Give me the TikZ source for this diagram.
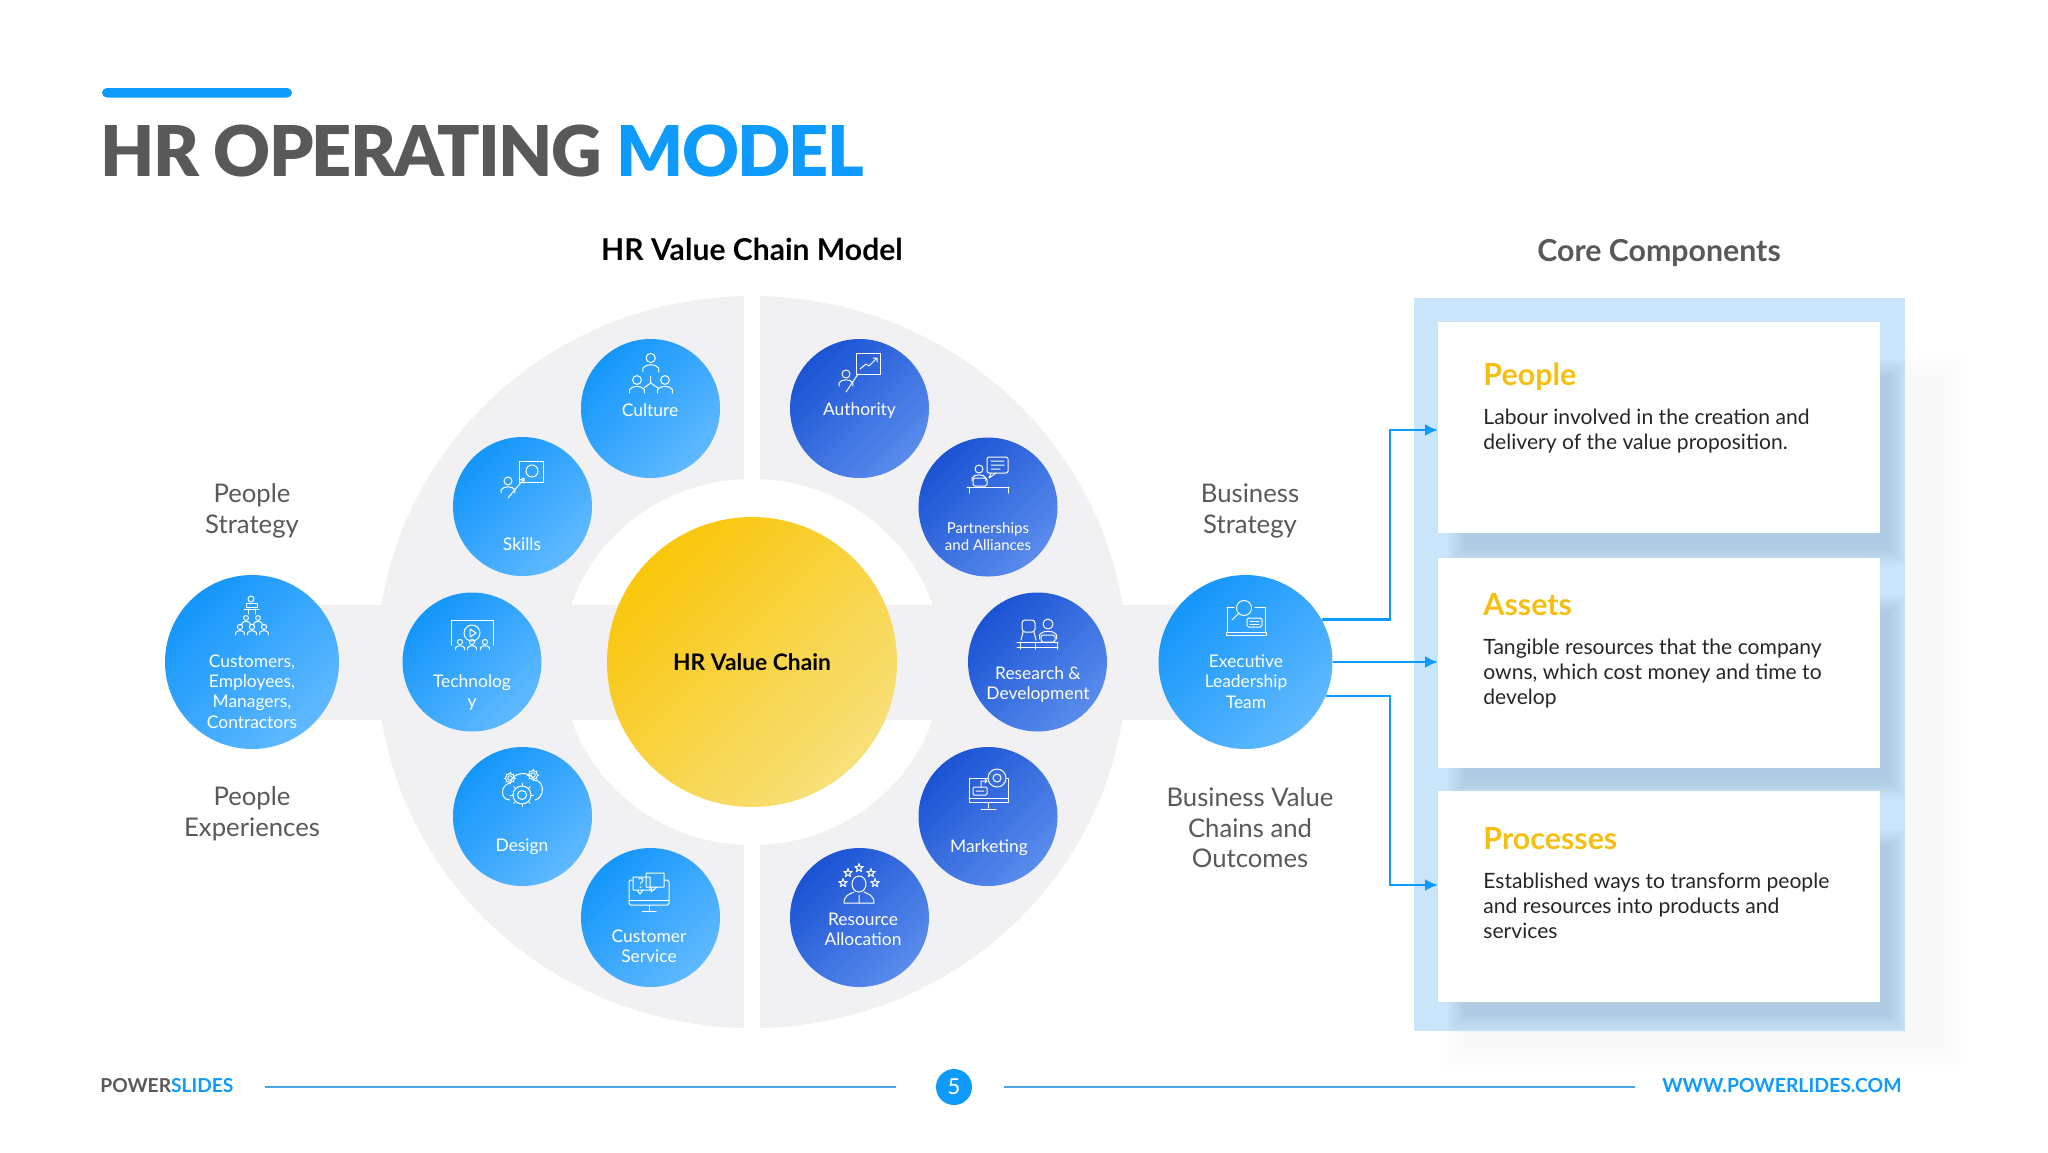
\documentclass[tikz,border=0pt]{standalone}
\usepackage{fontspec}
\setmainfont{Lato}
\newfontfamily\heavyfont[LetterSpace=-2.4]{Lato Black}
\usetikzlibrary{arrows.meta,calc}
\definecolor{dgrey}{HTML}{595959}
\definecolor{ring}{HTML}{F1F1F3}
\definecolor{skyA}{HTML}{1496FB}
\definecolor{skyB}{HTML}{60B9FF}
\definecolor{navyA}{HTML}{1A53D4}
\definecolor{navyB}{HTML}{5A8CEC}
\definecolor{sunA}{HTML}{F9C60A}
\definecolor{sunB}{HTML}{F8E07A}
\definecolor{accent}{HTML}{0E9BFB}
\definecolor{gold}{HTML}{F5BF12}
\definecolor{panelc}{HTML}{C8E5F9}
\definecolor{bodyc}{HTML}{262626}
\definecolor{rulec}{HTML}{4BA6E8}
\definecolor{shadowc}{HTML}{1F3A6E}
\newcommand\ipers[3]{%
  \draw[ico] (#1,#2) circle (#3);
  \draw[ico] ({#1-1.7*#3},{#2+3*#3}) -- ({#1-1.7*#3},{#2+2.2*#3}) .. controls ({#1-1.2*#3},{#2+1.2*#3}) and ({#1+1.2*#3},{#2+1.2*#3}) .. ({#1+1.7*#3},{#2+2.2*#3}) -- ({#1+1.7*#3},{#2+3*#3});}
\newcommand\istar[3]{%
  \begin{scope}[shift={(#1,#2)},scale=#3]
  \draw[ico] (0,-1)--(.22,-.31)--(.95,-.31)--(.36,.12)--(.59,.81)--(0,.38)--(-.59,.81)--(-.36,.12)--(-.95,-.31)--(-.22,-.31)--cycle;
  \end{scope}}
\newcommand\igear[3]{%
  \draw[ico] (#1,#2) circle (#3);
  \draw[ico] (#1,#2) circle ({0.5*#3});
  \foreach \a in {0,45,...,315}{\draw[ico] ({#1+#3*cos(\a)},{#2+#3*sin(\a)}) -- ({#1+1.3*#3*cos(\a)},{#2+1.3*#3*sin(\a)});}}
\newcommand\cardshadow[4]{%
  \foreach \k in {0,1,...,5}{\fill[shadowc,opacity=.022] ({#1+\k*3},{#2+\k*3}) rectangle ({#3-\k*3},{#4-\k*3});}}
\begin{document}
\begin{tikzpicture}[x=0.5pt,y=-0.5pt,
  ico/.style={draw=white,line width=0.5pt,line cap=round,line join=round},
  disc/.style={circle,minimum size=69.5pt,inner sep=0pt},
  sky/.style={disc,top color=skyA,bottom color=skyB,shading angle=45},
  navy/.style={disc,top color=navyA,bottom color=navyB,shading angle=45},
  big/.style={sky,minimum size=87pt},
  lbl/.style={text=white,align=center,inner sep=0pt,font=\fontsize{8.7}{10.2}\selectfont},
  small/.style={lbl,font=\fontsize{7.5}{8.5}\selectfont},
  side/.style={text=dgrey,align=center,inner sep=0pt,font=\fontsize{12.85}{15.3}\selectfont},
  card/.style={fill=white,minimum width=221pt,minimum height=105.25pt,inner sep=0pt},
  head/.style={text=gold,anchor=base west,inner sep=0pt,font=\bfseries\fontsize{15.2}{16}\selectfont},
  body/.style={text=bodyc,anchor=north west,align=left,inner sep=0pt,font=\fontsize{10.55}{12.5}\selectfont},
  conn/.style={draw=accent,line width=1.2pt,-{Latex[length=6.5pt,width=6pt]}},
  foot/.style={draw=rulec,line width=0.7pt}]
\useasboundingbox (0,0) rectangle (2048,1152);
\fill[white] (0,0) rectangle (2048,1152);

% title
\fill[accent,rounded corners=2.4pt] (102,88) rectangle (292,97.5);
\node[anchor=base west,inner sep=0pt,font=\heavyfont\fontsize{35}{36}\selectfont,text=dgrey] (title) at (100,176) {HR OPERATING \textcolor{accent}{MODEL}};
\node[inner sep=0pt,anchor=base,font=\bfseries\fontsize{15.05}{16}\selectfont,text=black] (tmodel) at (752,260) {HR Value Chain Model};
\node[inner sep=0pt,anchor=base,font=\bfseries\fontsize{15.15}{16}\selectfont,text=dgrey] (tcore) at (1659,261) {Core Components};

% ring
\fill[ring] (752,662) ellipse (375 and 366);
\fill[white] (744,290) rectangle (760,1033);
\fill[white] (752,662) ellipse (190 and 183);
\fill[ring] (252,605) rectangle (1245,720);
\node[circle,minimum size=145pt,inner sep=0pt,top color=sunA,bottom color=sunB,shading angle=45] (core) at (752,662) {};
\node[inner sep=0pt,font=\bfseries\fontsize{11.4}{13}\selectfont,text=black] (corelbl) at (752,662) {HR Value Chain};

% panel
\foreach \k in {0,1,...,6}{\fill[shadowc,opacity=.0035] ({1440+\k*4},{350+\k*4}) rectangle ({1965-\k*4},{1068-\k*4});}
\fill[panelc] (1414,298) rectangle (1905,1031);
\begin{scope}
\clip (1414,298) rectangle (1905,1031);
\cardshadow{1448}{360}{1906}{565}
\cardshadow{1448}{596}{1906}{798}
\cardshadow{1448}{830}{1906}{1032}
\end{scope}
\node[card] (card1) at (1659,427.5) {};
\node[card] (card2) at (1659,663) {};
\node[card] (card3) at (1659,896.5) {};

\node[head] (h1) at (1483,385) {People};
\node[body] (b1) at (1483,409) {Labour involved in the creation and\\delivery of the value proposition.};
\node[head] (h2) at (1483,615) {Assets};
\node[body] (b2) at (1483,639) {Tangible resources that the company\\owns, which cost money and time to\\develop};
\node[head] (h3) at (1483,849) {Processes};
\node[body] (b3) at (1483,873) {Established ways to transform people\\and resources into products and\\services};

% exec + connectors
\coordinate (j1) at (1390,430);
\coordinate (in1) at (1438,430);
\coordinate (j3) at (1390,885);
\coordinate (in3) at (1438,885);
\node[big] (exec) at (1245.5,662) {};
\node[big] (cust) at (252,662) {};
\draw[conn] (exec.29.6) -| (j1) -- (in1);
\draw[conn] (exec.east) -- (exec.east -| in1);
\draw[conn] (exec.-23) -| (j3) -- (in3);

% discs
\node[sky] (culture) at (650.5,408.5) {};
\node[sky] (skills) at (522.5,506.5) {};
\node[sky] (tech) at (472,662) {};
\node[sky] (design) at (522.5,816.5) {};
\node[sky] (service) at (650.5,917.5) {};
\node[navy] (auth) at (859.5,408.5) {};
\node[navy] (partner) at (988,507) {};
\node[navy] (rnd) at (1037.5,662) {};
\node[navy] (market) at (988,816.5) {};
\node[navy] (resource) at (859.5,917.5) {};

% labels
\node[lbl] (lcust) at (252,691.5) {Customers,\\Employees,\\Managers,\\Contractors};
\node[lbl] (lexec) at (1246,681.5) {Executive\\Leadership\\Team};
\node[lbl] (lculture) at (650,410) {Culture};
\node[lbl] (lskills) at (522,544) {Skills};
\node[lbl] (ltech) at (472,692.5) {Technolog\\y};
\node[lbl] (ldesign) at (522,847) {Design};
\node[lbl] (lservice) at (649,946) {Customer\\Service};
\node[lbl] (lauth) at (859.5,411) {Authority};
\node[small] (lpartner) at (988,536.5) {Partnerships\\and Alliances};
\node[lbl] (lrnd) at (1038,684.5) {Research \&\\Development};
\node[lbl] (lmarket) at (989,847.5) {Marketing};
\node[lbl] (lresource) at (863,929.5) {Resource\\Allocation};

% side texts
\node[side] (s1) at (252,511) {People\\Strategy};
\node[side] (s2) at (252,814) {People\\Experiences};
\node[side] (s3) at (1250,511) {Business\\Strategy};
\node[side] (s4) at (1250,828) {Business Value\\Chains and\\Outcomes};

% icons
% culture
\ipers{650.7}{358}{4.6}\ipers{637}{380}{4.4}\ipers{665}{380}{4.4}
\draw[ico] (650.7,383) -- (650.7,376) (650.7,383) -- (644,388) (650.7,383) -- (658,388);
% skills
\draw[ico] (519,461) rectangle (543,482);
\draw[ico] (532,471) circle (6);
\ipers{508}{481}{4}
\draw[ico] (508,498) -- (523,480) (520,480) -- (524,478) -- (524,483);
% authority
\draw[ico] (856,353) rectangle (880,374);
\draw[ico] (860,369) -- (866,364) -- (869,366) -- (877,358) (873,358) -- (877,358) -- (877,362);
\ipers{846}{374}{4}
\draw[ico] (846,392) -- (858,374);
% partnerships
\draw[ico,rounded corners=1pt] (987,457) rectangle (1008,473);
\draw[ico] (991,461) -- (1004,461) (991,465) -- (1004,465) (991,469) -- (1000,469) (991,473) -- (989,478) -- (996,473);
\ipers{979}{469}{4}
\draw[ico] (967,487) -- (1009,487) (969,487) -- (969,493) (1008,487) -- (1008,493);
\draw[ico,rounded corners=.8pt] (973,478) rectangle (987,486);
% rnd
\draw[ico,rounded corners=1.5pt] (1022,620) rectangle (1035,632);
\draw[ico] (1023,632) -- (1021,640) (1034,632) -- (1036,640);
\ipers{1048}{624}{5}
\draw[ico,rounded corners=.8pt] (1041,635) rectangle (1055,642);
\draw[ico] (1017,642) -- (1058,642) (1017,647) -- (1058,647) (1020,642) -- (1020,649) (1057,642) -- (1057,649) (1035,642) -- (1035,649);
% exec
\draw[ico] (1227,607) -- (1227,632) -- (1265,632) -- (1265,607) -- (1255,607);
\draw[ico] (1227,607) -- (1234,607);
\draw[ico] (1226,632) rectangle (1266,635);
\draw[ico] (1244,608) circle (7.5);
\draw[ico] (1238.5,613.5) -- (1232,620);
\draw[ico,rounded corners=.8pt] (1247,618) rectangle (1262,627);
\draw[ico] (1250,621) -- (1259,621) (1250,624) -- (1259,624);
% marketing
\draw[ico] (969,778) rectangle (1008,802);
\draw[ico] (969,798) -- (1008,798);
\draw[ico] (988,802) -- (988,808) (981,809) -- (996,809);
\fill[navyA!55!navyB] (997,778) circle (9);
\draw[ico] (997,778) circle (9) (997,778) circle (4);
\draw[ico,rounded corners=.6pt] (973,787) rectangle (987,795);
\draw[ico] (976,791) -- (984,791) (981,787) -- (981,781) -- (987,781) (985,779) -- (987,781) -- (985,783);
% resource
\istar{848}{873}{4.5}\istar{859}{868}{4.5}\istar{871}{873}{4.5}\istar{843}{883}{4.5}\istar{875}{883}{4.5}
\draw[ico] (859,884) ellipse (7 and 8);
\draw[ico] (844,903) -- (874,903) .. controls (874,895) and (868,894) .. (864,892) (844,903) .. controls (844,895) and (850,894) .. (854,892) (859,895) -- (859,903);
% service
\draw[ico,rounded corners=.8pt] (629,880) rectangle (669,905);
\draw[ico] (629,900) -- (669,900);
\draw[ico] (649,905) -- (649,910) (642,911) -- (656,911);
\fill[skyA!65!skyB] (633,877) rectangle (650,890);
\fill[skyA!65!skyB] (646,873) rectangle (664,887);
\draw[ico] (633,877) rectangle (650,890) (637,890) -- (640,894) -- (643,890);
\draw[ico] (646,873) rectangle (664,887) (652,887) -- (651,892) -- (657,887);
\node[inner sep=0pt,text=white,font=\fontsize{7}{7}\selectfont] (qmark) at (641,883.5) {?};
% design
\draw[ico] (510,800) .. controls (500,800) and (500,785) .. (510,783) .. controls (512,772) and (530,770) .. (534,780) .. controls (545,780) and (545,798) .. (535,800);
\fill[skyA!65!skyB] (522,795) circle (13);
\igear{522}{795}{9}
\igear{510}{778}{4.5}
\igear{533}{775}{4.5}
% technology
\draw[ico] (451,645) -- (451,620) -- (493,620) -- (493,645);
\draw[ico] (472,633) circle (8);
\draw[ico] (470,629) -- (476,633) -- (470,637) -- cycle;
\ipers{460}{642}{2.6}\ipers{472}{642}{2.6}\ipers{485}{642}{2.6}
% customers
\draw[ico] (251,599) circle (3);
\draw[ico] (246,603) -- (257,603) -- (257,607) -- (246,607) -- cycle;
\draw[ico] (244,609) -- (259,609) (248,609) -- (248,614) (255,609) -- (255,614);
\ipers{246}{618}{2.4}\ipers{258}{618}{2.4}
\ipers{240}{627}{2.6}\ipers{252}{627}{2.6}\ipers{264}{627}{2.6}

% footer
\node[inner sep=0pt,anchor=base west,font=\bfseries\fontsize{9.6}{10}\selectfont,text=dgrey] (brand) at (100,1092) {POWER\textcolor{accent}{SLIDES}};
\coordinate (r1a) at (265,1087); \coordinate (r1b) at (896,1087);
\coordinate (r2a) at (1004,1087); \coordinate (r2b) at (1635,1087);
\draw[foot] (r1a) -- (r1b);
\draw[foot] (r2a) -- (r2b);
\node[circle,fill=accent,minimum size=18pt,inner sep=0pt,text=white,font=\fontsize{11}{11}\selectfont] (page) at (954,1087) {5};
\node[inner sep=0pt,anchor=base east,font=\bfseries\fontsize{9.7}{10}\selectfont,text=accent] (url) at (1902,1092) {WWW.POWERLIDES.COM};
\end{tikzpicture}
\end{document}
